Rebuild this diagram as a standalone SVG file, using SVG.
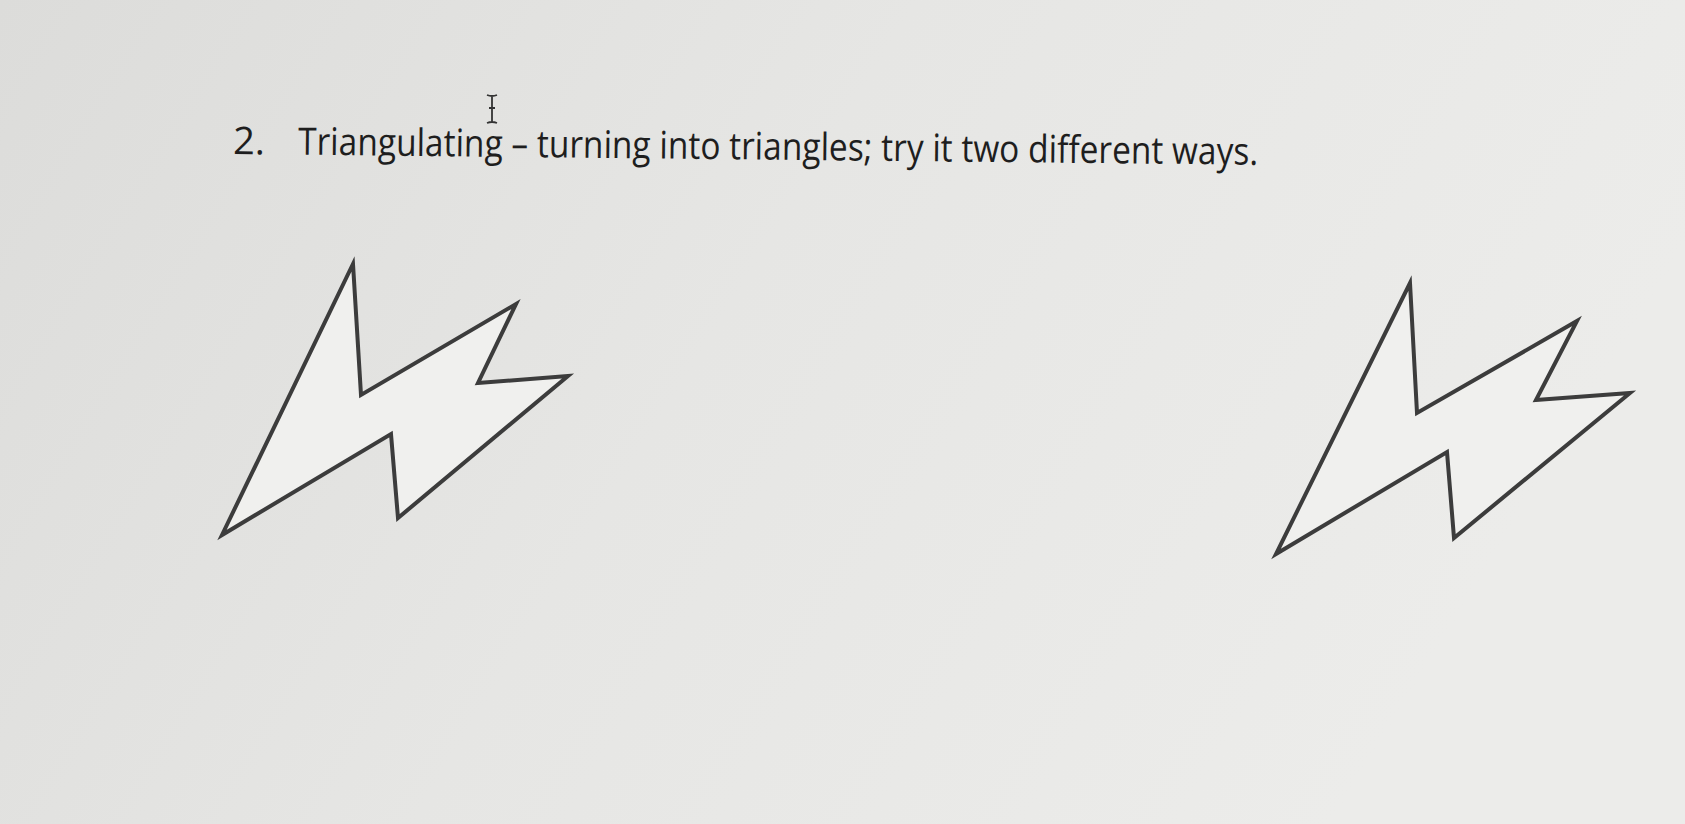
<svg xmlns="http://www.w3.org/2000/svg" width="1685" height="824" viewBox="0 0 1685 824">
<defs>
<linearGradient id="bg" x1="0" y1="0" x2="1" y2="0.3">
<stop offset="0" stop-color="#dcdcda"/>
<stop offset="0.5" stop-color="#e6e6e4"/>
<stop offset="1" stop-color="#ececea"/>
</linearGradient>
<style>
.bolt{fill:#f0f0ee;stroke:#3c3c3c;stroke-width:4;stroke-linejoin:miter;stroke-miterlimit:20}
.t{font-family:"Open Sans","Liberation Sans",sans-serif;font-size:38px;fill:#1e1e1e}
</style>
</defs>
<rect width="1685" height="824" fill="url(#bg)"/>
<g transform="rotate(0.6 233 154)">
<text class="t" x="233" y="154">2.</text>
<text class="t" x="298" y="154" textLength="960" lengthAdjust="spacingAndGlyphs">Triangulating – turning into triangles; try it two different ways.</text>
</g>
<path d="M487 95q5 2 10 0M492 96v26M487 123q5-2 10 0M489 108h6" fill="none" stroke="#333" stroke-width="1.8"/>
<g id="bolt-left">
<polygon class="bolt" points="353,264 361,395 516,304 478,383 568,376 398,518 391,434 222,535"/>
</g>
<g id="bolt-right">
<polygon class="bolt" points="1410,283 1417,413 1577,321 1536,400 1630,393 1454,538 1447,452 1276,554"/>
</g>
</svg>
